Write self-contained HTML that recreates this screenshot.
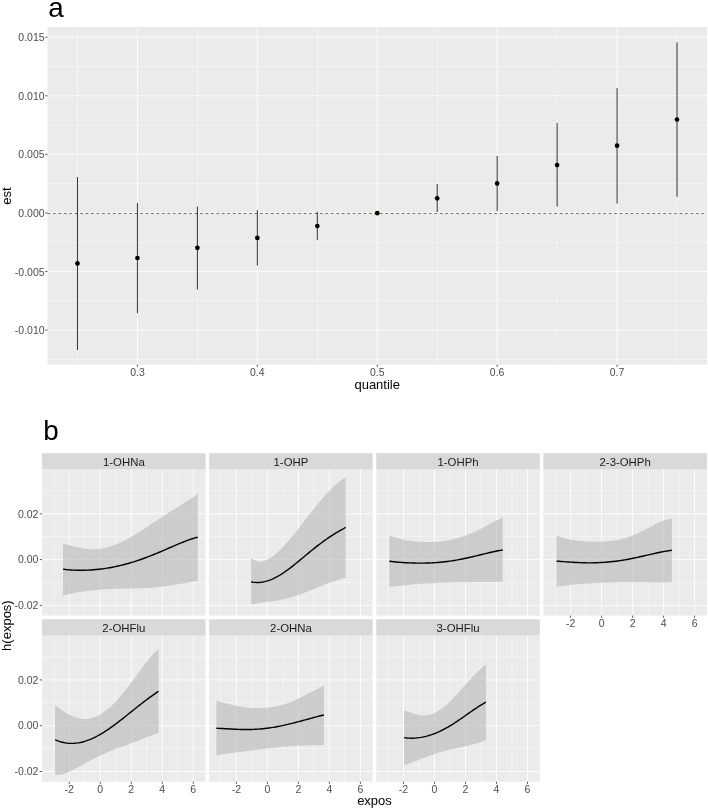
<!DOCTYPE html>
<html><head><meta charset="utf-8"><title>Figure</title>
<style>
html,body{margin:0;padding:0;background:#fff;}
body{width:708px;height:810px;overflow:hidden;}
svg{display:block;font-family:"Liberation Sans", Arial, sans-serif;filter:blur(0.3px);}
</style></head><body>
<svg width="708" height="810" viewBox="0 0 708 810">
<rect width="708" height="810" fill="#FFFFFF"/>
<rect x="47.5" y="27.0" width="659.5" height="337.7" fill="#EBEBEB"/>
<path d="M47.5 359.4H707.0M47.5 300.82H707.0M47.5 242.24H707.0M47.5 183.66H707.0M47.5 125.08H707.0M47.5 66.5H707.0M77.48 27.0V364.7M197.39 27.0V364.7M317.3 27.0V364.7M437.21 27.0V364.7M557.12 27.0V364.7M677.03 27.0V364.7" stroke="#FFFFFF" stroke-width="0.45" fill="none"/>
<path d="M47.5 330.11H707.0M47.5 271.53H707.0M47.5 212.95H707.0M47.5 154.37H707.0M47.5 95.79H707.0M47.5 37.21H707.0M137.43 27.0V364.7M257.34 27.0V364.7M377.25 27.0V364.7M497.16 27.0V364.7M617.07 27.0V364.7" stroke="#FFFFFF" stroke-width="0.85" fill="none"/>
<path d="M47.5 213.5H707.0" stroke="#CC4F5E" stroke-width="1.0" stroke-dasharray="2.75 2.699" fill="none"/>
<path d="M77.48 177V350M137.43 202.9V313.2M197.39 206.5V289.6M257.34 210.1V265.6M317.3 211.8V239.8M437.21 184V212M497.16 155.9V211M557.12 123.1V206.6M617.07 88.1V203.6M677.03 42.4V196.8" stroke="#000" stroke-width="0.8" fill="none"/>
<circle cx="77.48" cy="263.4" r="2.35" fill="#000"/>
<circle cx="137.43" cy="258" r="2.35" fill="#000"/>
<circle cx="197.39" cy="247.8" r="2.35" fill="#000"/>
<circle cx="257.34" cy="237.9" r="2.35" fill="#000"/>
<circle cx="317.3" cy="226" r="2.35" fill="#000"/>
<circle cx="377.25" cy="213.2" r="2.35" fill="#000"/>
<circle cx="437.21" cy="198.3" r="2.35" fill="#000"/>
<circle cx="497.16" cy="183.4" r="2.35" fill="#000"/>
<circle cx="557.12" cy="165.1" r="2.35" fill="#000"/>
<circle cx="617.07" cy="145.7" r="2.35" fill="#000"/>
<circle cx="677.03" cy="119.5" r="2.35" fill="#000"/>
<path d="M45.3 330.11H47.5M45.3 271.53H47.5M45.3 212.95H47.5M45.3 154.37H47.5M45.3 95.79H47.5M45.3 37.21H47.5M137.43 364.7V366.9M257.34 364.7V366.9M377.25 364.7V366.9M497.16 364.7V366.9M617.07 364.7V366.9" stroke="#333333" stroke-width="0.8" fill="none"/>
<text x="44.6" y="334.21" text-anchor="end" font-size="10.5" fill="#4D4D4D">-0.010</text>
<text x="44.6" y="275.63" text-anchor="end" font-size="10.5" fill="#4D4D4D">-0.005</text>
<text x="44.6" y="217.05" text-anchor="end" font-size="10.5" fill="#4D4D4D">0.000</text>
<text x="44.6" y="158.47" text-anchor="end" font-size="10.5" fill="#4D4D4D">0.005</text>
<text x="44.6" y="99.89" text-anchor="end" font-size="10.5" fill="#4D4D4D">0.010</text>
<text x="44.6" y="41.31" text-anchor="end" font-size="10.5" fill="#4D4D4D">0.015</text>
<text x="137.43" y="376.1" text-anchor="middle" font-size="10.5" fill="#4D4D4D">0.3</text>
<text x="257.34" y="376.1" text-anchor="middle" font-size="10.5" fill="#4D4D4D">0.4</text>
<text x="377.25" y="376.1" text-anchor="middle" font-size="10.5" fill="#4D4D4D">0.5</text>
<text x="497.16" y="376.1" text-anchor="middle" font-size="10.5" fill="#4D4D4D">0.6</text>
<text x="617.07" y="376.1" text-anchor="middle" font-size="10.5" fill="#4D4D4D">0.7</text>
<text x="377.2" y="388.7" text-anchor="middle" font-size="13" fill="#000">quantile</text>
<text transform="translate(11.3 196) rotate(-90)" text-anchor="middle" font-size="13" fill="#000">est</text>
<text x="48.2" y="17" font-size="27.8" fill="#000">a</text>
<rect x="42.1" y="453.2" width="163.5" height="16.4" fill="#D9D9D9"/>
<text x="123.85" y="465.6" text-anchor="middle" font-size="11.4" fill="#1A1A1A">1-OHNa</text>
<rect x="42.1" y="469.6" width="163.5" height="146" fill="#EBEBEB"/>
<path d="M53.79 469.6V615.6M84.79 469.6V615.6M115.79 469.6V615.6M146.79 469.6V615.6M177.79 469.6V615.6M42.1 582.5H205.6M42.1 536.7H205.6M42.1 490.9H205.6" stroke="#FFFFFF" stroke-width="0.45" fill="none"/>
<path d="M69.29 469.6V615.6M100.29 469.6V615.6M131.29 469.6V615.6M162.29 469.6V615.6M193.29 469.6V615.6M42.1 605.4H205.6M42.1 559.6H205.6M42.1 513.8H205.6" stroke="#FFFFFF" stroke-width="0.85" fill="none"/>
<path d="M63 543.39 65.75 544.16 68.5 544.96 71.25 545.74 74 546.49 76.76 547.18 79.51 547.8 82.26 548.32 85.01 548.74 87.76 549.05 90.51 549.23 93.26 549.29 96.01 549.2 98.76 548.98 101.51 548.63 104.27 548.13 107.02 547.5 109.77 546.73 112.52 545.84 115.27 544.83 118.02 543.7 120.77 542.46 123.52 541.12 126.27 539.69 129.02 538.18 131.78 536.59 134.53 534.94 137.28 533.24 140.03 531.49 142.78 529.71 145.53 527.91 148.28 526.08 151.03 524.25 153.78 522.41 156.53 520.58 159.29 518.76 162.04 516.95 164.79 515.15 167.54 513.38 170.29 511.62 173.04 509.89 175.79 508.16 178.54 506.44 181.29 504.72 184.04 503 186.8 501.25 189.55 499.47 192.3 497.64 195.05 495.74 197.8 493.74 L197.8 580.71 195.05 581.16 192.3 581.64 189.55 582.13 186.8 582.64 184.04 583.14 181.29 583.64 178.54 584.13 175.79 584.6 173.04 585.06 170.29 585.48 167.54 585.88 164.79 586.25 162.04 586.59 159.29 586.9 156.53 587.17 153.78 587.42 151.03 587.64 148.28 587.83 145.53 587.99 142.78 588.12 140.03 588.24 137.28 588.34 134.53 588.42 131.78 588.49 129.02 588.55 126.27 588.6 123.52 588.66 120.77 588.71 118.02 588.78 115.27 588.85 112.52 588.93 109.77 589.04 107.02 589.16 104.27 589.31 101.51 589.48 98.76 589.69 96.01 589.92 93.26 590.19 90.51 590.5 87.76 590.84 85.01 591.22 82.26 591.63 79.51 592.09 76.76 592.57 74 593.09 71.25 593.65 68.5 594.23 65.75 594.83 63 595.45Z" fill="#B7B7B7" fill-opacity="0.6"/>
<path d="M63 569.09 65.75 569.45 68.5 569.74 71.25 569.96 74 570.13 76.76 570.24 79.51 570.29 82.26 570.29 85.01 570.24 87.76 570.14 90.51 570 93.26 569.8 96.01 569.56 98.76 569.28 101.51 568.95 104.27 568.58 107.02 568.16 109.77 567.7 112.52 567.19 115.27 566.64 118.02 566.05 120.77 565.41 123.52 564.73 126.27 564 129.02 563.23 131.78 562.42 134.53 561.57 137.28 560.67 140.03 559.74 142.78 558.76 145.53 557.75 148.28 556.71 151.03 555.63 153.78 554.52 156.53 553.39 159.29 552.24 162.04 551.06 164.79 549.88 167.54 548.68 170.29 547.49 173.04 546.3 175.79 545.12 178.54 543.96 181.29 542.83 184.04 541.73 186.8 540.69 189.55 539.7 192.3 538.78 195.05 537.94 197.8 537.2" stroke="#000" stroke-width="1.4" fill="none"/>
<text x="38.4" y="609.15" text-anchor="end" font-size="10.5" fill="#4D4D4D">-0.02</text>
<text x="38.4" y="563.35" text-anchor="end" font-size="10.5" fill="#4D4D4D">0.00</text>
<text x="38.4" y="517.55" text-anchor="end" font-size="10.5" fill="#4D4D4D">0.02</text>
<path d="M39.8 605.4H42.1M39.8 559.6H42.1M39.8 513.8H42.1" stroke="#333333" stroke-width="0.8" fill="none"/>
<rect x="209.2" y="453.2" width="163.5" height="16.4" fill="#D9D9D9"/>
<text x="290.95" y="465.6" text-anchor="middle" font-size="11.4" fill="#1A1A1A">1-OHP</text>
<rect x="209.2" y="469.6" width="163.5" height="146" fill="#EBEBEB"/>
<path d="M220.89 469.6V615.6M251.89 469.6V615.6M282.89 469.6V615.6M313.89 469.6V615.6M344.89 469.6V615.6M209.2 582.5H372.7M209.2 536.7H372.7M209.2 490.9H372.7" stroke="#FFFFFF" stroke-width="0.45" fill="none"/>
<path d="M236.39 469.6V615.6M267.39 469.6V615.6M298.39 469.6V615.6M329.39 469.6V615.6M360.39 469.6V615.6M209.2 605.4H372.7M209.2 559.6H372.7M209.2 513.8H372.7" stroke="#FFFFFF" stroke-width="0.85" fill="none"/>
<path d="M251.1 558.09 253.03 559.47 254.96 560.47 256.89 561.12 258.82 561.45 260.75 561.48 262.68 561.24 264.61 560.74 266.54 560.02 268.48 559.08 270.41 557.95 272.34 556.64 274.27 555.18 276.2 553.57 278.13 551.83 280.06 549.97 281.99 548.01 283.92 545.96 285.85 543.83 287.78 541.63 289.71 539.36 291.64 537.05 293.57 534.68 295.5 532.29 297.43 529.86 299.37 527.41 301.3 524.95 303.23 522.47 305.16 519.99 307.09 517.52 309.02 515.05 310.95 512.59 312.88 510.16 314.81 507.74 316.74 505.36 318.67 503.01 320.6 500.69 322.53 498.43 324.46 496.21 326.39 494.05 328.32 491.96 330.26 489.93 332.19 487.98 334.12 486.12 336.05 484.36 337.98 482.69 339.91 481.14 341.84 479.71 343.77 478.41 345.7 477.25 L345.7 577.8 343.77 578.3 341.84 578.83 339.91 579.38 337.98 579.97 336.05 580.59 334.12 581.23 332.19 581.9 330.26 582.59 328.32 583.31 326.39 584.04 324.46 584.79 322.53 585.56 320.6 586.33 318.67 587.12 316.74 587.9 314.81 588.69 312.88 589.48 310.95 590.26 309.02 591.03 307.09 591.8 305.16 592.55 303.23 593.28 301.3 593.99 299.37 594.68 297.43 595.35 295.5 595.99 293.57 596.6 291.64 597.18 289.71 597.73 287.78 598.25 285.85 598.74 283.92 599.2 281.99 599.62 280.06 600.02 278.13 600.38 276.2 600.72 274.27 601.03 272.34 601.32 270.41 601.59 268.48 601.84 266.54 602.09 264.61 602.33 262.68 602.58 260.75 602.83 258.82 603.1 256.89 603.4 254.96 603.73 253.03 604.1 251.1 604.53Z" fill="#B7B7B7" fill-opacity="0.6"/>
<path d="M251.1 581.85 253.03 582.19 254.96 582.41 256.89 582.51 258.82 582.48 260.75 582.33 262.68 582.06 264.61 581.68 266.54 581.19 268.48 580.59 270.41 579.88 272.34 579.08 274.27 578.19 276.2 577.21 278.13 576.14 280.06 575 281.99 573.79 283.92 572.51 285.85 571.17 287.78 569.78 289.71 568.34 291.64 566.86 293.57 565.34 295.5 563.8 297.43 562.23 299.37 560.64 301.3 559.04 303.23 557.43 305.16 555.82 307.09 554.22 309.02 552.62 310.95 551.03 312.88 549.47 314.81 547.92 316.74 546.4 318.67 544.9 320.6 543.44 322.53 542.01 324.46 540.61 326.39 539.25 328.32 537.92 330.26 536.63 332.19 535.38 334.12 534.16 336.05 532.97 337.98 531.81 339.91 530.69 341.84 529.58 343.77 528.49 345.7 527.42" stroke="#000" stroke-width="1.4" fill="none"/>
<rect x="376.3" y="453.2" width="163.5" height="16.4" fill="#D9D9D9"/>
<text x="458.05" y="465.6" text-anchor="middle" font-size="11.4" fill="#1A1A1A">1-OHPh</text>
<rect x="376.3" y="469.6" width="163.5" height="146" fill="#EBEBEB"/>
<path d="M387.99 469.6V615.6M418.99 469.6V615.6M449.99 469.6V615.6M480.99 469.6V615.6M511.99 469.6V615.6M376.3 582.5H539.8M376.3 536.7H539.8M376.3 490.9H539.8" stroke="#FFFFFF" stroke-width="0.45" fill="none"/>
<path d="M403.49 469.6V615.6M434.49 469.6V615.6M465.49 469.6V615.6M496.49 469.6V615.6M527.49 469.6V615.6M376.3 605.4H539.8M376.3 559.6H539.8M376.3 513.8H539.8" stroke="#FFFFFF" stroke-width="0.85" fill="none"/>
<path d="M389.3 535.11 391.61 536.09 393.93 536.97 396.24 537.74 398.56 538.43 400.87 539.04 403.19 539.58 405.5 540.05 407.81 540.46 410.13 540.82 412.44 541.13 414.76 541.39 417.07 541.6 419.39 541.78 421.7 541.91 424.01 542 426.33 542.05 428.64 542.06 430.96 542.03 433.27 541.95 435.59 541.83 437.9 541.67 440.21 541.45 442.53 541.19 444.84 540.88 447.16 540.51 449.47 540.09 451.79 539.61 454.1 539.08 456.41 538.49 458.73 537.83 461.04 537.12 463.36 536.35 465.67 535.52 467.99 534.63 470.3 533.69 472.61 532.69 474.93 531.63 477.24 530.54 479.56 529.4 481.87 528.22 484.19 527.01 486.5 525.78 488.81 524.54 491.13 523.29 493.44 522.05 495.76 520.83 498.07 519.64 500.39 518.49 502.7 517.42 L502.7 581.9 500.39 581.94 498.07 581.97 495.76 582 493.44 582.02 491.13 582.04 488.81 582.05 486.5 582.06 484.19 582.07 481.87 582.08 479.56 582.08 477.24 582.09 474.93 582.1 472.61 582.11 470.3 582.13 467.99 582.14 465.67 582.16 463.36 582.19 461.04 582.22 458.73 582.25 456.41 582.29 454.1 582.34 451.79 582.39 449.47 582.45 447.16 582.51 444.84 582.59 442.53 582.67 440.21 582.75 437.9 582.85 435.59 582.95 433.27 583.06 430.96 583.18 428.64 583.31 426.33 583.45 424.01 583.6 421.7 583.75 419.39 583.92 417.07 584.09 414.76 584.28 412.44 584.48 410.13 584.68 407.81 584.9 405.5 585.13 403.19 585.37 400.87 585.63 398.56 585.89 396.24 586.17 393.93 586.46 391.61 586.77 389.3 587.09Z" fill="#B7B7B7" fill-opacity="0.6"/>
<path d="M389.3 561.32 391.61 561.57 393.93 561.81 396.24 562.02 398.56 562.21 400.87 562.39 403.19 562.55 405.5 562.68 407.81 562.8 410.13 562.91 412.44 562.99 414.76 563.05 417.07 563.09 419.39 563.11 421.7 563.11 424.01 563.08 426.33 563.03 428.64 562.96 430.96 562.87 433.27 562.75 435.59 562.6 437.9 562.43 440.21 562.23 442.53 562 444.84 561.74 447.16 561.46 449.47 561.15 451.79 560.82 454.1 560.45 456.41 560.07 458.73 559.65 461.04 559.21 463.36 558.75 465.67 558.27 467.99 557.76 470.3 557.24 472.61 556.71 474.93 556.16 477.24 555.6 479.56 555.03 481.87 554.46 484.19 553.89 486.5 553.33 488.81 552.78 491.13 552.24 493.44 551.73 495.76 551.24 498.07 550.78 500.39 550.37 502.7 550" stroke="#000" stroke-width="1.4" fill="none"/>
<rect x="543.4" y="453.2" width="163.5" height="16.4" fill="#D9D9D9"/>
<text x="625.15" y="465.6" text-anchor="middle" font-size="11.4" fill="#1A1A1A">2-3-OHPh</text>
<rect x="543.4" y="469.6" width="163.5" height="146" fill="#EBEBEB"/>
<path d="M555.09 469.6V615.6M586.09 469.6V615.6M617.09 469.6V615.6M648.09 469.6V615.6M679.09 469.6V615.6M543.4 582.5H706.9M543.4 536.7H706.9M543.4 490.9H706.9" stroke="#FFFFFF" stroke-width="0.45" fill="none"/>
<path d="M570.59 469.6V615.6M601.59 469.6V615.6M632.59 469.6V615.6M663.59 469.6V615.6M694.59 469.6V615.6M543.4 605.4H706.9M543.4 559.6H706.9M543.4 513.8H706.9" stroke="#FFFFFF" stroke-width="0.85" fill="none"/>
<path d="M556.5 535.63 558.86 536.55 561.21 537.33 563.57 538.02 565.92 538.61 568.28 539.13 570.63 539.58 572.99 539.98 575.34 540.32 577.7 540.63 580.05 540.89 582.41 541.12 584.76 541.32 587.12 541.49 589.47 541.62 591.83 541.72 594.18 541.79 596.54 541.82 598.89 541.82 601.25 541.77 603.6 541.67 605.96 541.53 608.31 541.33 610.67 541.07 613.02 540.75 615.38 540.37 617.73 539.92 620.09 539.41 622.44 538.82 624.8 538.15 627.15 537.42 629.51 536.61 631.86 535.73 634.22 534.78 636.57 533.76 638.93 532.69 641.28 531.56 643.64 530.39 645.99 529.19 648.35 527.97 650.7 526.74 653.06 525.51 655.41 524.32 657.77 523.17 660.12 522.09 662.48 521.1 664.83 520.25 667.19 519.54 669.54 519.03 671.9 518.74 L671.9 582.3 669.54 582.37 667.19 582.42 664.83 582.46 662.48 582.47 660.12 582.48 657.77 582.47 655.41 582.45 653.06 582.43 650.7 582.41 648.35 582.38 645.99 582.35 643.64 582.32 641.28 582.3 638.93 582.28 636.57 582.26 634.22 582.25 631.86 582.24 629.51 582.24 627.15 582.25 624.8 582.26 622.44 582.29 620.09 582.32 617.73 582.35 615.38 582.4 613.02 582.46 610.67 582.52 608.31 582.59 605.96 582.68 603.6 582.76 601.25 582.86 598.89 582.97 596.54 583.08 594.18 583.21 591.83 583.34 589.47 583.48 587.12 583.62 584.76 583.78 582.41 583.95 580.05 584.12 577.7 584.3 575.34 584.5 572.99 584.7 570.63 584.92 568.28 585.15 565.92 585.39 563.57 585.64 561.21 585.91 558.86 586.2 556.5 586.5Z" fill="#B7B7B7" fill-opacity="0.6"/>
<path d="M556.5 561.08 558.86 561.28 561.21 561.47 563.57 561.66 565.92 561.84 568.28 562.01 570.63 562.17 572.99 562.32 575.34 562.45 577.7 562.56 580.05 562.66 582.41 562.74 584.76 562.8 587.12 562.84 589.47 562.86 591.83 562.85 594.18 562.81 596.54 562.75 598.89 562.67 601.25 562.55 603.6 562.41 605.96 562.24 608.31 562.04 610.67 561.82 613.02 561.56 615.38 561.28 617.73 560.96 620.09 560.62 622.44 560.25 624.8 559.86 627.15 559.44 629.51 559 631.86 558.54 634.22 558.06 636.57 557.56 638.93 557.04 641.28 556.52 643.64 555.98 645.99 555.44 648.35 554.89 650.7 554.35 653.06 553.81 655.41 553.28 657.77 552.77 660.12 552.27 662.48 551.8 664.83 551.36 667.19 550.96 669.54 550.6 671.9 550.3" stroke="#000" stroke-width="1.4" fill="none"/>
<text x="570.59" y="626.5" text-anchor="middle" font-size="10.5" fill="#4D4D4D">-2</text>
<text x="601.59" y="626.5" text-anchor="middle" font-size="10.5" fill="#4D4D4D">0</text>
<text x="632.59" y="626.5" text-anchor="middle" font-size="10.5" fill="#4D4D4D">2</text>
<text x="663.59" y="626.5" text-anchor="middle" font-size="10.5" fill="#4D4D4D">4</text>
<text x="694.59" y="626.5" text-anchor="middle" font-size="10.5" fill="#4D4D4D">6</text>
<path d="M570.59 615.6V617.8M601.59 615.6V617.8M632.59 615.6V617.8M663.59 615.6V617.8M694.59 615.6V617.8" stroke="#333333" stroke-width="0.8" fill="none"/>
<rect x="42.1" y="619.3" width="163.5" height="16.4" fill="#D9D9D9"/>
<text x="123.85" y="631.7" text-anchor="middle" font-size="11.4" fill="#1A1A1A">2-OHFlu</text>
<rect x="42.1" y="635.7" width="163.5" height="146" fill="#EBEBEB"/>
<path d="M53.79 635.7V781.7M84.79 635.7V781.7M115.79 635.7V781.7M146.79 635.7V781.7M177.79 635.7V781.7M42.1 748.6H205.6M42.1 702.8H205.6M42.1 657H205.6" stroke="#FFFFFF" stroke-width="0.45" fill="none"/>
<path d="M69.29 635.7V781.7M100.29 635.7V781.7M131.29 635.7V781.7M162.29 635.7V781.7M193.29 635.7V781.7M42.1 771.5H205.6M42.1 725.7H205.6M42.1 679.9H205.6" stroke="#FFFFFF" stroke-width="0.85" fill="none"/>
<path d="M55.1 705 57.21 706.68 59.32 708.3 61.44 709.84 63.55 711.29 65.66 712.65 67.77 713.9 69.89 715.02 72 716.02 74.11 716.89 76.22 717.61 78.33 718.19 80.45 718.61 82.56 718.87 84.67 718.98 86.78 718.91 88.9 718.68 91.01 718.28 93.12 717.71 95.23 716.97 97.34 716.07 99.46 715 101.57 713.76 103.68 712.37 105.79 710.82 107.91 709.11 110.02 707.27 112.13 705.28 114.24 703.16 116.36 700.92 118.47 698.57 120.58 696.1 122.69 693.55 124.8 690.91 126.92 688.2 129.03 685.42 131.14 682.61 133.25 679.76 135.37 676.89 137.48 674.02 139.59 671.16 141.7 668.34 143.81 665.56 145.93 662.85 148.04 660.23 150.15 657.71 152.26 655.32 154.38 653.07 156.49 651 158.6 649.12 L158.6 733.16 156.49 733.78 154.38 734.46 152.26 735.2 150.15 735.97 148.04 736.77 145.93 737.59 143.81 738.42 141.7 739.25 139.59 740.08 137.48 740.9 135.37 741.72 133.25 742.53 131.14 743.33 129.03 744.12 126.92 744.9 124.8 745.68 122.69 746.45 120.58 747.23 118.47 748.01 116.36 748.8 114.24 749.6 112.13 750.41 110.02 751.25 107.91 752.1 105.79 752.99 103.68 753.9 101.57 754.84 99.46 755.82 97.34 756.83 95.23 757.88 93.12 758.95 91.01 760.07 88.9 761.2 86.78 762.37 84.67 763.55 82.56 764.75 80.45 765.95 78.33 767.14 76.22 768.31 74.11 769.45 72 770.53 69.89 771.56 67.77 772.49 65.66 773.31 63.55 773.99 61.44 774.51 59.32 774.84 57.21 774.94 55.1 774.77Z" fill="#B7B7B7" fill-opacity="0.6"/>
<path d="M55.1 739.84 57.21 740.7 59.32 741.44 61.44 742.05 63.55 742.55 65.66 742.93 67.77 743.19 69.89 743.34 72 743.38 74.11 743.3 76.22 743.12 78.33 742.83 80.45 742.44 82.56 741.95 84.67 741.36 86.78 740.68 88.9 739.91 91.01 739.05 93.12 738.11 95.23 737.09 97.34 736 99.46 734.84 101.57 733.61 103.68 732.31 105.79 730.96 107.91 729.56 110.02 728.11 112.13 726.61 114.24 725.07 116.36 723.5 118.47 721.89 120.58 720.26 122.69 718.61 124.8 716.94 126.92 715.26 129.03 713.57 131.14 711.88 133.25 710.18 135.37 708.49 137.48 706.81 139.59 705.14 141.7 703.49 143.81 701.85 145.93 700.24 148.04 698.65 150.15 697.1 152.26 695.58 154.38 694.09 156.49 692.64 158.6 691.23" stroke="#000" stroke-width="1.4" fill="none"/>
<text x="38.4" y="775.25" text-anchor="end" font-size="10.5" fill="#4D4D4D">-0.02</text>
<text x="38.4" y="729.45" text-anchor="end" font-size="10.5" fill="#4D4D4D">0.00</text>
<text x="38.4" y="683.65" text-anchor="end" font-size="10.5" fill="#4D4D4D">0.02</text>
<path d="M39.8 771.5H42.1M39.8 725.7H42.1M39.8 679.9H42.1" stroke="#333333" stroke-width="0.8" fill="none"/>
<text x="69.29" y="792.6" text-anchor="middle" font-size="10.5" fill="#4D4D4D">-2</text>
<text x="100.29" y="792.6" text-anchor="middle" font-size="10.5" fill="#4D4D4D">0</text>
<text x="131.29" y="792.6" text-anchor="middle" font-size="10.5" fill="#4D4D4D">2</text>
<text x="162.29" y="792.6" text-anchor="middle" font-size="10.5" fill="#4D4D4D">4</text>
<text x="193.29" y="792.6" text-anchor="middle" font-size="10.5" fill="#4D4D4D">6</text>
<path d="M69.29 781.7V783.9M100.29 781.7V783.9M131.29 781.7V783.9M162.29 781.7V783.9M193.29 781.7V783.9" stroke="#333333" stroke-width="0.8" fill="none"/>
<rect x="209.2" y="619.3" width="163.5" height="16.4" fill="#D9D9D9"/>
<text x="290.95" y="631.7" text-anchor="middle" font-size="11.4" fill="#1A1A1A">2-OHNa</text>
<rect x="209.2" y="635.7" width="163.5" height="146" fill="#EBEBEB"/>
<path d="M220.89 635.7V781.7M251.89 635.7V781.7M282.89 635.7V781.7M313.89 635.7V781.7M344.89 635.7V781.7M209.2 748.6H372.7M209.2 702.8H372.7M209.2 657H372.7" stroke="#FFFFFF" stroke-width="0.45" fill="none"/>
<path d="M236.39 635.7V781.7M267.39 635.7V781.7M298.39 635.7V781.7M329.39 635.7V781.7M360.39 635.7V781.7M209.2 771.5H372.7M209.2 725.7H372.7M209.2 679.9H372.7" stroke="#FFFFFF" stroke-width="0.85" fill="none"/>
<path d="M216.4 700.51 218.59 701.22 220.79 701.9 222.98 702.55 225.18 703.16 227.37 703.74 229.56 704.29 231.76 704.82 233.95 705.3 236.14 705.76 238.34 706.18 240.53 706.57 242.73 706.91 244.92 707.23 247.11 707.5 249.31 707.72 251.5 707.91 253.7 708.04 255.89 708.13 258.08 708.17 260.28 708.16 262.47 708.09 264.67 707.96 266.86 707.78 269.05 707.54 271.25 707.24 273.44 706.88 275.63 706.46 277.83 705.97 280.02 705.43 282.22 704.82 284.41 704.15 286.6 703.42 288.8 702.64 290.99 701.79 293.19 700.9 295.38 699.95 297.57 698.96 299.77 697.92 301.96 696.85 304.16 695.75 306.35 694.62 308.54 693.48 310.74 692.32 312.93 691.17 315.12 690.02 317.32 688.89 319.51 687.79 321.71 686.73 323.9 685.73 L323.9 744.99 321.71 745.09 319.51 745.16 317.32 745.22 315.12 745.27 312.93 745.31 310.74 745.35 308.54 745.39 306.35 745.44 304.16 745.5 301.96 745.56 299.77 745.64 297.57 745.73 295.38 745.84 293.19 745.96 290.99 746.1 288.8 746.25 286.6 746.42 284.41 746.6 282.22 746.79 280.02 747 277.83 747.22 275.63 747.46 273.44 747.7 271.25 747.95 269.05 748.21 266.86 748.48 264.67 748.75 262.47 749.03 260.28 749.31 258.08 749.59 255.89 749.87 253.7 750.16 251.5 750.44 249.31 750.72 247.11 751 244.92 751.28 242.73 751.56 240.53 751.84 238.34 752.13 236.14 752.41 233.95 752.7 231.76 753 229.56 753.31 227.37 753.63 225.18 753.97 222.98 754.33 220.79 754.71 218.59 755.13 216.4 755.58Z" fill="#B7B7B7" fill-opacity="0.6"/>
<path d="M216.4 728.25 218.59 728.33 220.79 728.44 222.98 728.56 225.18 728.68 227.37 728.81 229.56 728.94 231.76 729.07 233.95 729.18 236.14 729.28 238.34 729.37 240.53 729.44 242.73 729.49 244.92 729.52 247.11 729.53 249.31 729.5 251.5 729.46 253.7 729.38 255.89 729.27 258.08 729.13 260.28 728.97 262.47 728.77 264.67 728.54 266.86 728.28 269.05 727.99 271.25 727.67 273.44 727.32 275.63 726.94 277.83 726.54 280.02 726.11 282.22 725.66 284.41 725.18 286.6 724.68 288.8 724.17 290.99 723.63 293.19 723.08 295.38 722.52 297.57 721.94 299.77 721.36 301.96 720.76 304.16 720.16 306.35 719.56 308.54 718.96 310.74 718.37 312.93 717.77 315.12 717.19 317.32 716.61 319.51 716.05 321.71 715.5 323.9 714.96" stroke="#000" stroke-width="1.4" fill="none"/>
<text x="236.39" y="792.6" text-anchor="middle" font-size="10.5" fill="#4D4D4D">-2</text>
<text x="267.39" y="792.6" text-anchor="middle" font-size="10.5" fill="#4D4D4D">0</text>
<text x="298.39" y="792.6" text-anchor="middle" font-size="10.5" fill="#4D4D4D">2</text>
<text x="329.39" y="792.6" text-anchor="middle" font-size="10.5" fill="#4D4D4D">4</text>
<text x="360.39" y="792.6" text-anchor="middle" font-size="10.5" fill="#4D4D4D">6</text>
<path d="M236.39 781.7V783.9M267.39 781.7V783.9M298.39 781.7V783.9M329.39 781.7V783.9M360.39 781.7V783.9" stroke="#333333" stroke-width="0.8" fill="none"/>
<rect x="376.3" y="619.3" width="163.5" height="16.4" fill="#D9D9D9"/>
<text x="458.05" y="631.7" text-anchor="middle" font-size="11.4" fill="#1A1A1A">3-OHFlu</text>
<rect x="376.3" y="635.7" width="163.5" height="146" fill="#EBEBEB"/>
<path d="M387.99 635.7V781.7M418.99 635.7V781.7M449.99 635.7V781.7M480.99 635.7V781.7M511.99 635.7V781.7M376.3 748.6H539.8M376.3 702.8H539.8M376.3 657H539.8" stroke="#FFFFFF" stroke-width="0.45" fill="none"/>
<path d="M403.49 635.7V781.7M434.49 635.7V781.7M465.49 635.7V781.7M496.49 635.7V781.7M527.49 635.7V781.7M376.3 771.5H539.8M376.3 725.7H539.8M376.3 679.9H539.8" stroke="#FFFFFF" stroke-width="0.85" fill="none"/>
<path d="M404.1 710.59 405.77 711.03 407.44 711.54 409.11 712.08 410.78 712.64 412.45 713.2 414.12 713.73 415.79 714.21 417.46 714.62 419.12 714.97 420.79 715.22 422.46 715.38 424.13 715.43 425.8 715.37 427.47 715.19 429.14 714.89 430.81 714.47 432.48 713.92 434.15 713.26 435.82 712.47 437.49 711.57 439.16 710.55 440.83 709.42 442.5 708.19 444.17 706.86 445.83 705.44 447.5 703.94 449.17 702.36 450.84 700.72 452.51 699.02 454.18 697.27 455.85 695.47 457.52 693.65 459.19 691.8 460.86 689.94 462.53 688.07 464.2 686.2 465.87 684.34 467.54 682.5 469.21 680.67 470.88 678.88 472.54 677.12 474.21 675.39 475.88 673.7 477.55 672.05 479.22 670.44 480.89 668.87 482.56 667.34 484.23 665.84 485.9 664.38 L485.9 740.19 484.23 740.87 482.56 741.49 480.89 742.08 479.22 742.63 477.55 743.15 475.88 743.64 474.21 744.1 472.54 744.54 470.88 744.95 469.21 745.35 467.54 745.74 465.87 746.11 464.2 746.48 462.53 746.84 460.86 747.2 459.19 747.56 457.52 747.92 455.85 748.28 454.18 748.65 452.51 749.03 450.84 749.42 449.17 749.82 447.5 750.24 445.83 750.67 444.17 751.11 442.5 751.57 440.83 752.05 439.16 752.55 437.49 753.07 435.82 753.6 434.15 754.15 432.48 754.72 430.81 755.31 429.14 755.91 427.47 756.53 425.8 757.15 424.13 757.79 422.46 758.44 420.79 759.1 419.12 759.75 417.46 760.41 415.79 761.07 414.12 761.71 412.45 762.35 410.78 762.97 409.11 763.57 407.44 764.14 405.77 764.68 404.1 765.18Z" fill="#B7B7B7" fill-opacity="0.6"/>
<path d="M404.1 737.66 405.77 737.87 407.44 738.03 409.11 738.13 410.78 738.18 412.45 738.18 414.12 738.13 415.79 738.03 417.46 737.88 419.12 737.68 420.79 737.43 422.46 737.13 424.13 736.78 425.8 736.39 427.47 735.95 429.14 735.46 430.81 734.93 432.48 734.35 434.15 733.73 435.82 733.07 437.49 732.37 439.16 731.62 440.83 730.83 442.5 730 444.17 729.14 445.83 728.24 447.5 727.3 449.17 726.33 450.84 725.33 452.51 724.3 454.18 723.25 455.85 722.16 457.52 721.06 459.19 719.93 460.86 718.79 462.53 717.64 464.2 716.47 465.87 715.29 467.54 714.12 469.21 712.94 470.88 711.77 472.54 710.6 474.21 709.45 475.88 708.32 477.55 707.21 479.22 706.13 480.89 705.09 482.56 704.09 484.23 703.14 485.9 702.24" stroke="#000" stroke-width="1.4" fill="none"/>
<text x="403.49" y="792.6" text-anchor="middle" font-size="10.5" fill="#4D4D4D">-2</text>
<text x="434.49" y="792.6" text-anchor="middle" font-size="10.5" fill="#4D4D4D">0</text>
<text x="465.49" y="792.6" text-anchor="middle" font-size="10.5" fill="#4D4D4D">2</text>
<text x="496.49" y="792.6" text-anchor="middle" font-size="10.5" fill="#4D4D4D">4</text>
<text x="527.49" y="792.6" text-anchor="middle" font-size="10.5" fill="#4D4D4D">6</text>
<path d="M403.49 781.7V783.9M434.49 781.7V783.9M465.49 781.7V783.9M496.49 781.7V783.9M527.49 781.7V783.9" stroke="#333333" stroke-width="0.8" fill="none"/>
<text x="374.5" y="805.1" text-anchor="middle" font-size="13" fill="#000">expos</text>
<text transform="translate(11.3 625.6) rotate(-90)" text-anchor="middle" font-size="13" fill="#000">h(expos)</text>
<text x="43.3" y="440.1" font-size="27.8" fill="#000">b</text>
</svg>
</body></html>
